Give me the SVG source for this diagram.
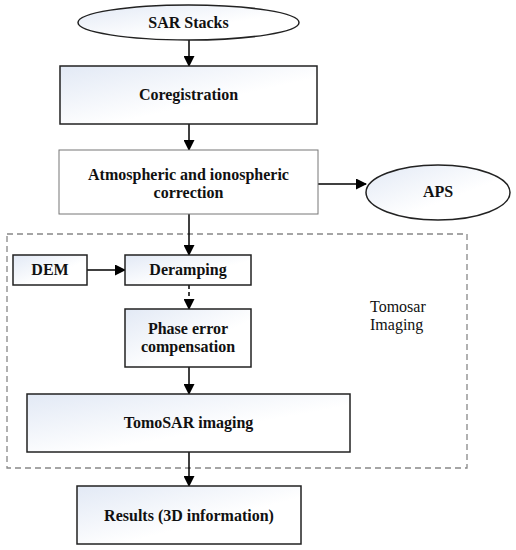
<svg xmlns="http://www.w3.org/2000/svg" width="516" height="550" viewBox="0 0 516 550">
<defs>
<linearGradient id="g" x1="0" y1="0" x2="1" y2="1">
<stop offset="0" stop-color="#e2e9f5"/>
<stop offset="0.6" stop-color="#ffffff"/>
</linearGradient>
<marker id="ah" markerWidth="11" markerHeight="11" refX="10" refY="5.5" orient="auto" markerUnits="userSpaceOnUse">
<path d="M0,0 L11,5.5 L0,11 Z" fill="#000"/>
</marker>
</defs>
<style>
.b{fill:url(#g);stroke:#222;stroke-width:1.5}
.w{fill:#fff;stroke:#777;stroke-width:1}
text{font-family:'Liberation Serif','DejaVu Serif',serif;font-size:16px;fill:#111}
.t{font-weight:bold;text-anchor:middle}
.c{stroke:#000;stroke-width:1.5;fill:none;marker-end:url(#ah)}
</style>
<rect width="516" height="550" fill="#fff"/>
<g id="tomosar-group">
<rect x="7" y="234" width="460" height="234" fill="none" stroke="#888" stroke-width="1.3" stroke-dasharray="6,4"/>
<text x="370" y="312">Tomosar</text>
<text x="370" y="330">Imaging</text>
</g>
<g id="connectors">
<line class="c" x1="189" y1="40" x2="189" y2="66"/>
<line class="c" x1="189" y1="124" x2="189" y2="150"/>
<line class="c" x1="318" y1="184" x2="366" y2="184"/>
<line class="c" x1="189" y1="214" x2="189" y2="255"/>
<line class="c" x1="87" y1="270" x2="125" y2="270"/>
<line class="c" x1="189" y1="285" x2="189" y2="309" stroke-dasharray="4,3"/>
<line class="c" x1="189" y1="367" x2="189" y2="394"/>
<line class="c" x1="189" y1="452" x2="189" y2="486"/>
</g>
<g id="sar-stacks">
<ellipse class="b" cx="188.5" cy="22.5" rx="110.5" ry="17.5"/>
<text class="t" x="188.5" y="28">SAR Stacks</text>
</g>
<g id="coregistration">
<rect class="b" x="60" y="66" width="257" height="58"/>
<text class="t" x="188.5" y="100">Coregistration</text>
</g>
<g id="atmospheric">
<rect class="w" x="59" y="150" width="259" height="64"/>
<text class="t" x="188.5" y="180">Atmospheric and ionospheric</text>
<text class="t" x="188.5" y="198">correction</text>
</g>
<g id="aps">
<ellipse class="b" cx="438" cy="192.5" rx="72" ry="27.5"/>
<text class="t" x="438" y="197">APS</text>
</g>
<g id="dem">
<rect class="b" x="13" y="255" width="74" height="30"/>
<text class="t" x="50" y="275">DEM</text>
</g>
<g id="deramping">
<rect class="b" x="125" y="255" width="126" height="30"/>
<text class="t" x="188" y="275">Deramping</text>
</g>
<g id="phase-error">
<rect class="b" x="125" y="309" width="126" height="58"/>
<text class="t" x="188" y="334">Phase error</text>
<text class="t" x="188" y="352">compensation</text>
</g>
<g id="tomosar-imaging">
<rect class="b" x="27" y="394" width="323" height="58"/>
<text class="t" x="188.5" y="428">TomoSAR imaging</text>
</g>
<g id="results">
<rect class="b" x="77" y="486" width="224" height="58"/>
<text class="t" x="189" y="521">Results (3D information)</text>
</g>
</svg>
